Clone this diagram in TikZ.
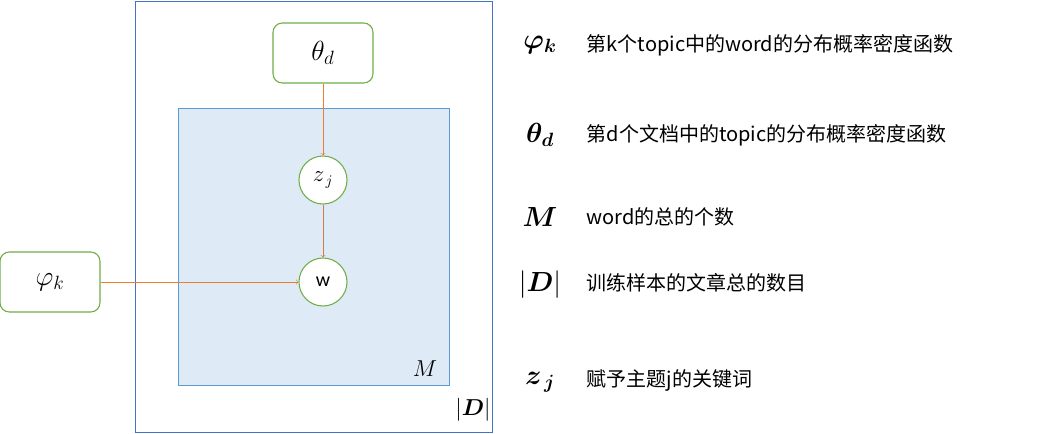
\documentclass[tikz,border=0pt]{standalone}
\usepackage{fontspec}
\usepackage{amsmath}
\newfontfamily\cjk{Noto Sans CJK SC}
\setsansfont{Carlito}
\usetikzlibrary{arrows}
\definecolor{plategreen}{RGB}{112,173,71}
\definecolor{plateblue}{RGB}{68,114,196}
\definecolor{innerblue}{RGB}{91,155,213}
\definecolor{innerfill}{RGB}{222,235,247}
\definecolor{arroworange}{RGB}{237,125,49}
\tikzset{
  param/.style={draw=plategreen,thick,rounded corners=7pt,fill=white,minimum width=100\pxu,minimum height=60\pxu,font=\fontsize{22}{24}\selectfont},
  latent/.style={draw=plategreen,thick,circle,fill=white,minimum size=48\pxu,inner sep=0pt},
  edge/.style={draw=arroworange,thin,->,>=to},
  legsym/.style={font=\fontsize{20}{22}\selectfont\bfseries},
  legtext/.style={anchor=west,font=\cjk\fontsize{15}{18}\selectfont}
}
\newlength{\pxu}\setlength{\pxu}{0.75pt}
\begin{document}
\begin{tikzpicture}[x=0.75pt,y=-0.75pt]
  \useasboundingbox (0,0) rectangle (1044,433);
  % plates
  \draw[plateblue] (135,1) rectangle (492,432);
  \draw[innerblue,fill=innerfill] (178,108) rectangle (449,385);
  \node at (425,369) {\fontsize{16}{18}\selectfont$M$};
  \node at (473,410) {\fontsize{18}{20}\selectfont$\left|\boldsymbol{D}\right|$};
  % nodes
  \node[param] (theta) at (323,53) {$\theta_d$};
  \node[param] (phi) at (50,282) {$\varphi_k$};
  \node[latent] (z) at (323,180) {\fontsize{16}{18}\selectfont$z_{\,j}$};
  \node[latent] (w) at (323,282) {\sffamily\fontsize{15}{18}\selectfont w};
  \draw[edge] (theta) -- (z);
  \draw[edge,draw=arroworange!70!gray] (z) -- (w);
  \draw[edge] (phi) -- (w);
  % legend
  \node[legsym] (lphi) at (540,45) {$\boldsymbol{\varphi_k}$};
  \node[legsym] (ltheta) at (540,135) {$\boldsymbol{\theta_d}$};
  \node[legsym] (lm) at (540,217) {$\boldsymbol{M}$};
  \node[legsym] (ld) at (540,285) {$\left|\boldsymbol{D}\right|$};
  \node[legsym] (lz) at (540,382) {$\boldsymbol{z_{\,j}}$};
  \node[legtext] at (582,45) {第k个topic中的word的分布概率密度函数};
  \node[legtext] at (582,135) {第d个文档中的topic的分布概率密度函数};
  \node[legtext] at (582,217) {word的总的个数};
  \node[legtext] at (582,283) {训练样本的文章总的数目};
  \node[legtext] at (582,380) {赋予主题j的关键词};
\end{tikzpicture}
\end{document}
